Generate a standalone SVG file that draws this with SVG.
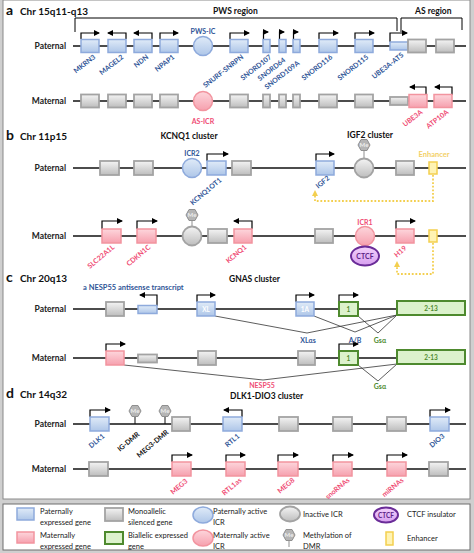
<svg xmlns="http://www.w3.org/2000/svg" width="474" height="553" viewBox="0 0 474 553">
<defs>
<linearGradient id="gB" x1="0" y1="0" x2="0" y2="1"><stop offset="0" stop-color="#e0ebf8"/><stop offset="1" stop-color="#aec6e8"/></linearGradient>
<linearGradient id="gP" x1="0" y1="0" x2="0" y2="1"><stop offset="0" stop-color="#fdd6dc"/><stop offset="1" stop-color="#f6a0ae"/></linearGradient>
<linearGradient id="gG" x1="0" y1="0" x2="0" y2="1"><stop offset="0" stop-color="#f4f4f4"/><stop offset="1" stop-color="#bdbdbd"/></linearGradient>
<linearGradient id="gV" x1="0" y1="0" x2="0" y2="1"><stop offset="0" stop-color="#f3d2fb"/><stop offset="1" stop-color="#d79ff0"/></linearGradient>
<marker id="ah" markerUnits="userSpaceOnUse" markerWidth="6" markerHeight="6" refX="5" refY="3" orient="auto"><path d="M0,0 L6,3 L0,6 z" fill="#000"/></marker>
<marker id="ay" markerUnits="userSpaceOnUse" markerWidth="6" markerHeight="6" refX="3" refY="3" orient="auto"><path d="M0,0 L6,3 L0,6 z" fill="#f3cf4f"/></marker>
<g id="me"><polygon points="-6,0 -3,-5.5 3,-5.5 6,0 3,5.5 -3,5.5" fill="#b5b5b5" stroke="#8f8f8f" stroke-width="1"/><text x="0" y="2.2" text-anchor="middle" font-size="6" fill="#eeeeee" font-family="Lato, 'Open Sans', sans-serif">Me</text></g>
</defs>
<style>
text{font-family:Lato,'Open Sans','Liberation Sans',sans-serif;font-weight:bold}
.ln{stroke:#111;stroke-width:1.6;fill:none}
.bp{fill:url(#gB);stroke:#8eaadc;stroke-width:1.5}
.bm{fill:url(#gP);stroke:#f2949f;stroke-width:1.5}
.bg{fill:url(#gG);stroke:#a3a3a3;stroke-width:1.8}
.bb{fill:#dcf2cc;stroke:#4e8a2e;stroke-width:2}
.en{fill:#fff3b3;stroke:#f3cf4f;stroke-width:1.5}
.arr{fill:none;stroke:#000;stroke-width:1.2;marker-end:url(#ah)}
.br{fill:none;stroke:#000;stroke-width:1}
.dot{fill:none;stroke:#f3cf4f;stroke-width:1.8;stroke-dasharray:1.8 1.8}
.sp{fill:none;stroke:#333;stroke-width:0.8}
.gl{font-size:7px}
.cb{fill:#2f5597}.cp{fill:#ef4c74}.ck{fill:#111}.cg{fill:#4e8a2e}
.row{font-size:8.5px;fill:#222;text-anchor:end}
.ttl{font-size:10px;fill:#111}
.big{font-size:14px;fill:#111}
.hd{font-size:8.5px;fill:#111}
.lg{font-size:7.5px;font-weight:normal;fill:#222}
</style>
<rect x="0" y="0" width="474" height="553" fill="#cfcfcf"/>
<rect x="3" y="0" width="467" height="499" fill="#fff" stroke="#8a8a8a" stroke-width="1"/>
<rect x="3" y="504" width="467" height="46" fill="#fff" stroke="#6e6e6e" stroke-width="1"/>

<g id="titles">
<text x="6" y="15" class="big">a</text><text x="20" y="15" class="ttl">Chr 15q11-q13</text>
<text x="213" y="14" class="hd">PWS region</text><text x="415" y="14" class="hd">AS region</text>
<text x="6" y="140" class="big">b</text><text x="20" y="140" class="ttl">Chr 11p15</text>
<text x="189" y="139" class="hd" text-anchor="middle">KCNQ1 cluster</text>
<text x="370" y="138" class="hd" text-anchor="middle">IGF2 cluster</text>
<text x="6" y="282" class="big">c</text><text x="20" y="282" class="ttl">Chr 20q13</text>
<text x="229" y="282" class="hd">GNAS cluster</text>
<text x="6" y="398" class="big">d</text><text x="20" y="398" class="ttl">Chr 14q32</text>
<text x="230" y="399" class="hd">DLK1-DIO3 cluster</text>
<text x="66" y="49" class="row">Paternal</text><text x="66" y="104" class="row">Maternal</text>
<text x="66" y="171" class="row">Paternal</text><text x="66" y="239" class="row">Maternal</text>
<text x="66" y="312" class="row">Paternal</text><text x="66" y="361" class="row">Maternal</text>
<text x="66" y="427" class="row">Paternal</text><text x="66" y="472" class="row">Maternal</text>
</g>

<g id="connectors">
<line class="ln" x1="73" y1="46" x2="466" y2="46"/>
<line class="ln" x1="73" y1="101" x2="466" y2="101"/>
<line class="ln" x1="73" y1="168" x2="466" y2="168"/>
<line class="ln" x1="73" y1="236" x2="466" y2="236"/>
<line class="ln" x1="73" y1="309" x2="397" y2="309"/>
<line class="ln" x1="73" y1="358" x2="397" y2="358"/>
<line class="ln" x1="73" y1="424" x2="466" y2="424"/>
<line class="ln" x1="73" y1="469" x2="466" y2="469"/>
<path class="br" d="M75,32 V18 H397 V31"/>
<path class="br" d="M401,32 V18 H462 V30"/>
<path class="arr" d="M81,39 V33 H99"/>
<path class="arr" d="M126,39 V33 H108"/>
<path class="arr" d="M152,39 V33 H134"/>
<path class="arr" d="M160,39 V33 H178"/>
<path class="arr" d="M230,39 V33 H249"/>
<path class="arr" d="M263.5,39 V32 H268"/>
<path class="arr" d="M279.5,39 V32 H284"/>
<path class="arr" d="M293.5,39 V32 H298"/>
<path class="arr" d="M319,39 V33 H338"/>
<path class="arr" d="M355,39 V33 H374"/>
<path class="arr" d="M390,42 V33 H407"/>
<path class="arr" d="M426,95 V87 H410"/>
<path class="arr" d="M452,95 V87 H435"/>
<path class="arr" d="M207,161 V154 H228"/>
<path class="arr" d="M316,161 V154 H334"/>
<path class="arr" d="M102,229 V221 H122"/>
<path class="arr" d="M137,229 V221 H157"/>
<path class="arr" d="M252,229 V221 H234"/>
<path class="arr" d="M396,229 V221 H415"/>
<path class="dot" d="M433,175 V201 H315 V193" marker-end="url(#ay)"/>
<path class="dot" d="M433,243 V274 H397 V264" marker-end="url(#ay)"/>
<line x1="364" y1="150.5" x2="364" y2="158.5" stroke="#8f8f8f" stroke-width="1"/>
<line x1="192" y1="220.5" x2="192" y2="226.5" stroke="#8f8f8f" stroke-width="1"/>
<path class="arr" d="M157,306 V295 H140"/>
<path class="arr" d="M197,302 V295 H215"/>
<path class="arr" d="M296,302 V295 H314"/>
<path class="arr" d="M339,302 V295 H358"/>
<path class="arr" d="M106,351 V344 H125"/>
<path class="arr" d="M339,351 V344 H358"/>
<path class="sp" d="M215,316 L307,333 L397,315"/>
<path class="sp" d="M314,316 L355,332 L397,315"/>
<path class="sp" d="M358,316 L378,333 L397,315"/>
<path class="sp" d="M124,365 L263,380 L397,364"/>
<path class="sp" d="M358,365 L378,381 L397,364"/>
<path class="arr" d="M90,417 V410 H110"/>
<path class="arr" d="M242,417 V410 H224"/>
<path class="arr" d="M430,417 V410 H450"/>
<path class="arr" d="M172,462 V455 H192"/>
<path class="arr" d="M226,462 V455 H245"/>
<path class="arr" d="M278,462 V455 H298"/>
<path class="arr" d="M333,462 V455 H353"/>
<path class="arr" d="M387,462 V455 H407"/>
<line x1="135" y1="416.5" x2="135" y2="424" stroke="#111" stroke-width="1"/>
<line x1="165" y1="416.5" x2="165" y2="424" stroke="#111" stroke-width="1"/>
</g>

<g id="MKRN3"><rect class="bp" x="81" y="39.5" width="18" height="13"/><text class="gl cb" text-anchor="end" transform="translate(96,58) rotate(-38)">MKRN3</text></g>
<g id="MAGEL2"><rect class="bp" x="108" y="39.5" width="18" height="13"/><text class="gl cb" text-anchor="end" transform="translate(124,58) rotate(-38)">MAGEL2</text></g>
<g id="NDN"><rect class="bp" x="134" y="39.5" width="18" height="13"/><text class="gl cb" text-anchor="end" transform="translate(149,58) rotate(-38)">NDN</text></g>
<g id="NPAP1"><rect class="bp" x="160" y="39.5" width="18" height="13"/><text class="gl cb" text-anchor="end" transform="translate(175,58) rotate(-38)">NPAP1</text></g>
<g id="PWS-IC"><circle class="bp" cx="203" cy="46" r="9.5"/><text class="cb" x="203" y="34" text-anchor="middle" font-size="7">PWS-IC</text></g>
<g id="SNURF-SNRPN"><rect class="bp" x="230" y="39.5" width="18" height="13"/><text class="gl cb" text-anchor="end" transform="translate(244,58) rotate(-38)">SNURF-SNRPN</text></g>
<g id="SNORD107"><rect class="bp" x="263" y="39.5" width="7" height="13"/><text class="gl cb" text-anchor="end" transform="translate(272,58) rotate(-38)">SNORD107</text></g>
<g id="SNORD64"><rect class="bp" x="279" y="39.5" width="7" height="13"/><text class="gl cb" text-anchor="end" transform="translate(286,61) rotate(-38)">SNORD64</text></g>
<g id="SNORD109A"><rect class="bp" x="293" y="39.5" width="7" height="13"/><text class="gl cb" text-anchor="end" transform="translate(300,64) rotate(-38)">SNORD109A</text></g>
<g id="SNORD116"><rect class="bp" x="319" y="39.5" width="18" height="13"/><text class="gl cb" text-anchor="end" transform="translate(333,58) rotate(-38)">SNORD116</text></g>
<g id="SNORD115"><rect class="bp" x="355" y="39.5" width="18" height="13"/><text class="gl cb" text-anchor="end" transform="translate(369,58) rotate(-38)">SNORD115</text></g>
<g id="UBE3A-ATS"><rect class="bp" x="390" y="42" width="18" height="8"/><text class="gl cb" text-anchor="end" transform="translate(404,56) rotate(-38)">UBE3A-ATS</text></g>
<g id="a-p-g1"><rect class="bg" x="408" y="39.5" width="18" height="13"/></g>
<g id="a-p-g2"><rect class="bg" x="436" y="39.5" width="18" height="13"/></g>

<g id="a-m-g1"><rect class="bg" x="81" y="94.5" width="18" height="13"/></g>
<g id="a-m-g2"><rect class="bg" x="108" y="94.5" width="18" height="13"/></g>
<g id="a-m-g3"><rect class="bg" x="134" y="94.5" width="18" height="13"/></g>
<g id="a-m-g4"><rect class="bg" x="160" y="94.5" width="18" height="13"/></g>
<g id="AS-ICR"><circle class="bm" cx="203" cy="101" r="9.5"/><text class="cp" x="203" y="124" text-anchor="middle" font-size="7">AS-ICR</text></g>
<g id="a-m-g5"><rect class="bg" x="230" y="94.5" width="18" height="13"/></g>
<g id="a-m-g6"><rect class="bg" x="263" y="94.5" width="7" height="13"/></g>
<g id="a-m-g7"><rect class="bg" x="279" y="94.5" width="7" height="13"/></g>
<g id="a-m-g8"><rect class="bg" x="293" y="94.5" width="7" height="13"/></g>
<g id="a-m-g9"><rect class="bg" x="319" y="94.5" width="18" height="13"/></g>
<g id="a-m-g10"><rect class="bg" x="355" y="94.5" width="18" height="13"/></g>
<g id="a-m-g11"><rect class="bg" x="390" y="97" width="18" height="8"/></g>
<g id="UBE3A"><rect class="bm" x="409" y="94.5" width="18" height="13"/><text class="gl cp" text-anchor="end" transform="translate(423,113) rotate(-38)">UBE3A</text></g>
<g id="ATP10A"><rect class="bm" x="434" y="94.5" width="18" height="13"/><text class="gl cp" text-anchor="end" transform="translate(449,113) rotate(-38)">ATP10A</text></g>

<g id="b-p-g1"><rect class="bg" x="100" y="161" width="19" height="14"/></g>
<g id="b-p-g2"><rect class="bg" x="134" y="161" width="19" height="14"/></g>
<g id="ICR2"><circle class="bp" cx="192" cy="168" r="9.5"/><text class="cb" x="192" y="156" text-anchor="middle" font-size="7">ICR2</text></g>
<g id="KCNQ1OT1"><rect class="bp" x="207" y="161" width="19" height="14"/><text class="gl cb" text-anchor="end" transform="translate(222,181) rotate(-40)">KCNQ1OT1</text></g>
<g id="b-p-g3"><rect class="bg" x="232" y="161" width="19" height="14"/></g>
<g id="IGF2"><rect class="bp" x="316" y="161" width="18" height="14"/><text class="gl cb" text-anchor="end" transform="translate(330,179) rotate(-40)">IGF2</text></g>
<g id="b-p-inactive"><circle class="bg" cx="364" cy="168" r="9.5"/><use href="#me" x="364" y="145"/></g>
<g id="b-p-g4"><rect class="bg" x="396" y="161" width="18" height="14"/></g>
<g id="b-p-enh"><rect class="en" x="429" y="162" width="8" height="12"/><text x="434" y="157" text-anchor="middle" font-size="7.5" fill="#f3d067">Enhancer</text></g>

<g id="SLC22A1L"><rect class="bm" x="102" y="229" width="19" height="14"/><text class="gl cp" text-anchor="end" transform="translate(115,248) rotate(-40)">SLC22A1L</text></g>
<g id="CDKN1C"><rect class="bm" x="137" y="229" width="19" height="14"/><text class="gl cp" text-anchor="end" transform="translate(151,248) rotate(-40)">CDKN1C</text></g>
<g id="b-m-inactive"><circle class="bg" cx="192" cy="236" r="9.5"/><use href="#me" x="192" y="215"/></g>
<g id="b-m-g1"><rect class="bg" x="208" y="229" width="19" height="14"/></g>
<g id="KCNQ1"><rect class="bm" x="234" y="229" width="18" height="14"/><text class="gl cp" text-anchor="end" transform="translate(247,248) rotate(-40)">KCNQ1</text></g>
<g id="b-m-g2"><rect class="bg" x="315" y="229" width="18" height="14"/></g>
<g id="ICR1"><circle class="bm" cx="365" cy="236" r="9.5"/><text class="cp" x="365" y="225" text-anchor="middle" font-size="7">ICR1</text></g>
<g id="CTCF"><ellipse cx="365" cy="256" rx="14" ry="9.5" fill="url(#gV)" stroke="#6a2c98" stroke-width="2"/><text x="365" y="258.5" text-anchor="middle" font-size="7" fill="#5b2386">CTCF</text></g>
<g id="H19"><rect class="bm" x="396" y="229" width="18" height="14"/><text class="gl cp" text-anchor="end" transform="translate(407,249) rotate(-40)">H19</text></g>
<g id="b-m-enh"><rect class="en" x="429" y="230" width="8" height="12"/></g>

<text class="cb" x="83" y="290" font-size="7.5">a NESP55 antisense transcript</text>
<g id="c-p-g1"><rect class="bg" x="106" y="302" width="18" height="14"/></g>
<g id="NESP55-AS"><rect class="bp" x="138" y="305.5" width="19" height="8"/></g>
<g id="XL"><rect class="bp" x="197" y="302" width="18" height="14"/><text x="206" y="311.5" text-anchor="middle" font-size="6.5" fill="#fff">XL</text></g>
<g id="A1"><rect class="bp" x="296" y="302" width="18" height="14"/><text x="305" y="311.5" text-anchor="middle" font-size="6.5" fill="#fff">1A</text></g>
<g id="c-p-ex1"><rect class="bb" x="339" y="302" width="19" height="14"/><text x="348.5" y="311.5" text-anchor="middle" font-size="6.5" class="cg">1</text></g>
<g id="c-p-ex2-13"><rect class="bb" x="397" y="301" width="68" height="14"/><text x="431" y="310.5" text-anchor="middle" font-size="6.5" class="cg">2-13</text></g>
<text class="cb" x="308" y="343" text-anchor="middle" font-size="7">XLαs</text>
<text class="cb" x="355" y="343" text-anchor="middle" font-size="7">A/B</text>
<text class="cg" x="380" y="343" text-anchor="middle" font-size="7">Gsα</text>

<g id="NESP55"><rect class="bm" x="106" y="351" width="18" height="14"/><text class="cp" x="262" y="388" text-anchor="middle" font-size="7">NESP55</text></g>
<g id="c-m-g1"><rect class="bg" x="138" y="354.5" width="19" height="8"/></g>
<g id="c-m-g2"><rect class="bg" x="198" y="351" width="18" height="14"/></g>
<g id="c-m-g3"><rect class="bg" x="298" y="351" width="17" height="14"/></g>
<g id="c-m-ex1"><rect class="bb" x="339" y="351" width="19" height="14"/><text x="348.5" y="360.5" text-anchor="middle" font-size="6.5" class="cg">1</text></g>
<g id="c-m-ex2-13"><rect class="bb" x="397" y="350" width="68" height="14"/><text x="431" y="359.5" text-anchor="middle" font-size="6.5" class="cg">2-13</text></g>
<text class="cg" x="380" y="389" text-anchor="middle" font-size="7">Gsα</text>

<g id="DLK1"><rect class="bp" x="90" y="417" width="19" height="14"/><text class="gl cb" text-anchor="end" transform="translate(105,437) rotate(-40)">DLK1</text></g>
<g id="IG-DMR"><use href="#me" x="135" y="411"/><text class="gl ck" text-anchor="end" transform="translate(140,435) rotate(-40)">IG-DMR</text></g>
<g id="MEG3-DMR"><use href="#me" x="165" y="411"/><text class="gl ck" text-anchor="end" transform="translate(169,433) rotate(-40)">MEG3-DMR</text></g>
<g id="d-p-g1"><rect class="bg" x="172" y="417" width="18" height="14"/></g>
<g id="RTL1"><rect class="bp" x="223" y="417" width="19" height="14"/><text class="gl cb" text-anchor="end" transform="translate(240,437) rotate(-40)">RTL1</text></g>
<g id="d-p-g2"><rect class="bg" x="279" y="417" width="19" height="14"/></g>
<g id="d-p-g3"><rect class="bg" x="333" y="417" width="19" height="14"/></g>
<g id="d-p-g4"><rect class="bg" x="387" y="417" width="19" height="14"/></g>
<g id="DIO3"><rect class="bp" x="430" y="417" width="19" height="14"/><text class="gl cb" text-anchor="end" transform="translate(445,437) rotate(-40)">DIO3</text></g>

<g id="d-m-g1"><rect class="bg" x="89" y="462" width="19" height="14"/></g>
<g id="MEG3"><rect class="bm" x="172" y="462" width="19" height="14"/><text class="gl cp" text-anchor="end" transform="translate(188,482) rotate(-40)">MEG3</text></g>
<g id="RTL1as"><rect class="bm" x="226" y="462" width="19" height="14"/><text class="gl cp" text-anchor="end" transform="translate(242,481) rotate(-40)">RTL1as</text></g>
<g id="MEG8"><rect class="bm" x="278" y="462" width="20" height="14"/><text class="gl cp" text-anchor="end" transform="translate(295,481) rotate(-40)">MEG8</text></g>
<g id="snoRNAs"><rect class="bm" x="333" y="462" width="19" height="14"/><text class="gl cp" text-anchor="end" transform="translate(350,481) rotate(-40)">snoRNAs</text></g>
<g id="miRNAs"><rect class="bm" x="387" y="462" width="19" height="14"/><text class="gl cp" text-anchor="end" transform="translate(404,481) rotate(-40)">miRNAs</text></g>
<g id="d-m-g2"><rect class="bg" x="429" y="462" width="19" height="14"/></g>

<g id="legend">
<rect class="bp" x="17" y="508" width="17" height="12"/>
<text class="lg" x="40" y="513.5">Paternally</text><text class="lg" x="40" y="525">expressed gene</text>
<rect class="bm" x="17" y="532" width="17" height="11"/>
<text class="lg" x="40" y="537.5">Maternally</text><text class="lg" x="40" y="548.5">expressed gene</text>
<rect class="bg" x="105" y="508" width="18" height="13"/>
<text class="lg" x="128" y="513.5">Monoallelic</text><text class="lg" x="128" y="525">silenced gene</text>
<rect class="bb" x="105" y="532" width="18" height="12"/>
<text class="lg" x="128" y="537.5">Biallelic expressed</text><text class="lg" x="128" y="548.5">gene</text>
<ellipse class="bp" cx="203" cy="515" rx="10" ry="8"/>
<text class="lg" x="213" y="513.5">Paternally active</text><text class="lg" x="213" y="525">ICR</text>
<ellipse class="bm" cx="203" cy="538" rx="10" ry="8"/>
<text class="lg" x="213" y="537.5">Maternally active</text><text class="lg" x="213" y="548.5">ICR</text>
<ellipse class="bg" cx="290" cy="514" rx="10" ry="7.5"/>
<text class="lg" x="303" y="517">Inactive ICR</text>
<line x1="289" y1="540" x2="289" y2="547" stroke="#8f8f8f" stroke-width="1"/>
<use href="#me" x="289" y="535"/>
<text class="lg" x="303" y="538">Methylation of</text><text class="lg" x="303" y="549">DMR</text>
<ellipse cx="386" cy="515" rx="12" ry="7.5" fill="url(#gV)" stroke="#6a2c98" stroke-width="2"/>
<text x="386" y="517.5" text-anchor="middle" font-size="6.5" fill="#5b2386" font-weight="normal">CTCF</text>
<text class="lg" x="407" y="517">CTCF insulator</text>
<rect class="en" x="386" y="532" width="7" height="13"/>
<text class="lg" x="407" y="541">Enhancer</text>
</g>
</svg>
